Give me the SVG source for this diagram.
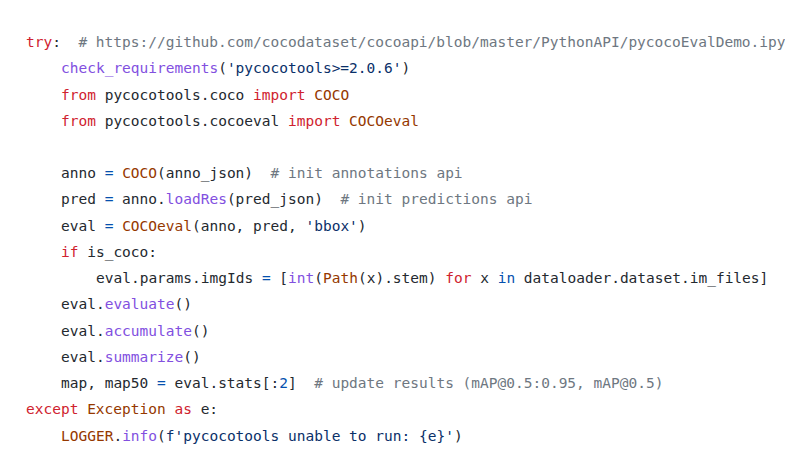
<svg xmlns="http://www.w3.org/2000/svg" width="785" height="468" viewBox="0 0 785 468">
<style>
text{font-family:"DejaVu Sans Mono","Liberation Mono",monospace;font-size:14.5px;fill:#24292f;white-space:pre}
.k{fill:#cf222e}.f{fill:#8250df}.s{fill:#0a3069}.c{fill:#6e7781}.t{fill:#953800}.o{fill:#0550ae}
</style>
<rect width="785" height="468" fill="#ffffff"/>
<g id="code" xml:space="preserve">
<text x="26" y="47"><tspan class="k">try</tspan>:  <tspan class="c"># https://github.com/cocodataset/cocoapi/blob/master/PythonAPI/pycocoEvalDemo.ipynb</tspan></text>
<text x="61" y="73"><tspan class="f">check_requirements</tspan>(<tspan class="s">'pycocotools&gt;=2.0.6'</tspan>)</text>
<text x="61" y="100"><tspan class="k">from</tspan> pycocotools.coco <tspan class="k">import</tspan> <tspan class="t">COCO</tspan></text>
<text x="61" y="126"><tspan class="k">from</tspan> pycocotools.cocoeval <tspan class="k">import</tspan> <tspan class="t">COCOeval</tspan></text>
<text x="61" y="178">anno <tspan class="o">=</tspan> <tspan class="t">COCO</tspan>(anno_json)  <tspan class="c"># init annotations api</tspan></text>
<text x="61" y="204">pred <tspan class="o">=</tspan> anno.<tspan class="f">loadRes</tspan>(pred_json)  <tspan class="c"># init predictions api</tspan></text>
<text x="61" y="231">eval <tspan class="o">=</tspan> <tspan class="t">COCOeval</tspan>(anno, pred, <tspan class="s">'bbox'</tspan>)</text>
<text x="61" y="257"><tspan class="k">if</tspan> is_coco:</text>
<text x="96" y="283">eval.params.imgIds <tspan class="o">=</tspan> [<tspan class="f">int</tspan>(<tspan class="t">Path</tspan>(x).stem) <tspan class="k">for</tspan> x <tspan class="o">in</tspan> dataloader.dataset.im_files]  <tspan class="c">#</tspan></text>
<text x="61" y="309">eval.<tspan class="f">evaluate</tspan>()</text>
<text x="61" y="336">eval.<tspan class="f">accumulate</tspan>()</text>
<text x="61" y="362">eval.<tspan class="f">summarize</tspan>()</text>
<text x="61" y="388">map, map50 <tspan class="o">=</tspan> eval.stats[:<tspan class="o">2</tspan>]  <tspan class="c"># update results (mAP@0.5:0.95, mAP@0.5)</tspan></text>
<text x="26" y="414"><tspan class="k">except</tspan> <tspan class="t">Exception</tspan> <tspan class="k">as</tspan> e:</text>
<text x="61" y="441"><tspan class="t">LOGGER</tspan>.<tspan class="f">info</tspan>(<tspan class="s">f'pycocotools unable to run: {e}'</tspan>)</text>
</g>
</svg>
